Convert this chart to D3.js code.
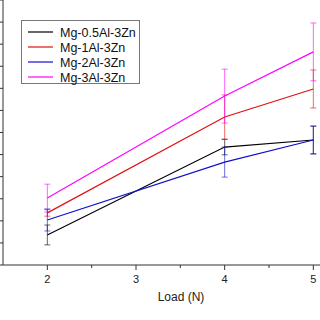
<!DOCTYPE html>
<html>
<head>
<meta charset="utf-8">
<script src="https://cdn.jsdelivr.net/npm/d3@7.9.0/dist/d3.min.js"></script>
<style>
  body { margin: 0; background: #fff; }
  svg { display: block; font-family: "Liberation Sans", Arial, sans-serif; }
</style>
</head>
<body>
<svg id="chart" width="320" height="320"></svg>
<script>
const loads = [2, 4, 5];
const seriesNames = ["Mg-0.5Al-3Zn", "Mg-1Al-3Zn", "Mg-2Al-3Zn", "Mg-3Al-3Zn"];
const seriesColors = ["#000000", "#e01010", "#1010d0", "#ff00ff"];
const means = [
  [1.36, 5.34, 5.66],
  [2.36, 6.70, 7.97],
  [2.04, 4.66, 5.66],
  [3.03, 7.65, 9.65]
];
const errors = [
  [0.45, 0.35, 0.63],
  [0.15, 1.00, 0.86],
  [0.50, 0.68, 0.63],
  [0.63, 1.22, 1.31]
];
const xTicks = [2, 3, 4, 5];
const xMinorTicks = [2.5, 3.5, 4.5];
const yTicks = d3.range(0, 13);

const svg = d3.select("#chart");

const x = d3.scaleLinear().domain([1.5, 5.1]).range([3, 322.2]);
const y = d3.scaleLinear().domain([0, 12]).range([265, 0]);

const axisColor = "#333";

// left axis
const gy = svg.append("g").attr("transform", "translate(3,0)");
gy.append("line").attr("x1", 0).attr("x2", 0).attr("y1", 0).attr("y2", 265)
  .attr("stroke", axisColor).attr("stroke-width", 1);
gy.selectAll("line.tick").data(yTicks).enter().append("line")
  .attr("class", "tick")
  .attr("x1", -4).attr("x2", 0)
  .attr("y1", d => y(d)).attr("y2", d => y(d))
  .attr("stroke", axisColor).attr("stroke-width", 1);

// bottom axis
const gx = svg.append("g").attr("transform", "translate(0,265)");
gx.append("line").attr("x1", 3).attr("x2", 320).attr("y1", 0).attr("y2", 0)
  .attr("stroke", axisColor).attr("stroke-width", 1);
gx.selectAll("line.major").data(xTicks).enter().append("line")
  .attr("class", "major")
  .attr("x1", d => x(d)).attr("x2", d => x(d))
  .attr("y1", 0).attr("y2", 5)
  .attr("stroke", axisColor);
gx.selectAll("line.minor").data(xMinorTicks).enter().append("line")
  .attr("class", "minor")
  .attr("x1", d => x(d)).attr("x2", d => x(d))
  .attr("y1", 0).attr("y2", 3)
  .attr("stroke", axisColor);
gx.selectAll("text").data(xTicks).enter().append("text")
  .attr("x", d => x(d)).attr("y", 18)
  .attr("text-anchor", "middle")
  .attr("font-size", "11px")
  .attr("fill", "#222")
  .text(d => d);

svg.append("text")
  .attr("x", 181).attr("y", 301)
  .attr("text-anchor", "middle")
  .attr("font-size", "12px")
  .attr("fill", "#222")
  .text("Load (N)");

// series
const line = d3.line().x((d, i) => x(loads[i])).y(d => y(d));

seriesNames.forEach((name, s) => {
  const g = svg.append("g");
  const color = seriesColors[s];
  means[s].forEach((m, i) => {
    const cx = x(loads[i]);
    const e = errors[s][i];
    g.append("line")
      .attr("x1", cx).attr("x2", cx)
      .attr("y1", y(m - e)).attr("y2", y(m + e))
      .attr("stroke", color).attr("stroke-width", 1).attr("opacity", 0.6);
    [m - e, m + e].forEach(v => {
      g.append("line")
        .attr("x1", cx - 3).attr("x2", cx + 3)
        .attr("y1", y(v)).attr("y2", y(v))
        .attr("stroke", color).attr("stroke-width", 1).attr("opacity", 0.6);
    });
  });
  g.append("path")
    .datum(means[s])
    .attr("fill", "none")
    .attr("stroke", color)
    .attr("stroke-width", 1.2)
    .attr("d", line);
});

// legend
const legend = svg.append("g");
legend.append("rect")
  .attr("x", 21.5).attr("y", 20.5).attr("width", 118).attr("height", 63)
  .attr("fill", "#fff").attr("stroke", "#777").attr("stroke-width", 1);
seriesNames.forEach((name, s) => {
  const ly = 32 + s * 15;
  legend.append("line")
    .attr("x1", 28).attr("x2", 53).attr("y1", ly).attr("y2", ly)
    .attr("stroke", seriesColors[s]).attr("stroke-width", 1.2);
  legend.append("text")
    .attr("x", 60).attr("y", ly + 4.5)
    .attr("font-size", "12.5px")
    .attr("fill", "#111")
    .text(name);
});
</script>
</body>
</html>
